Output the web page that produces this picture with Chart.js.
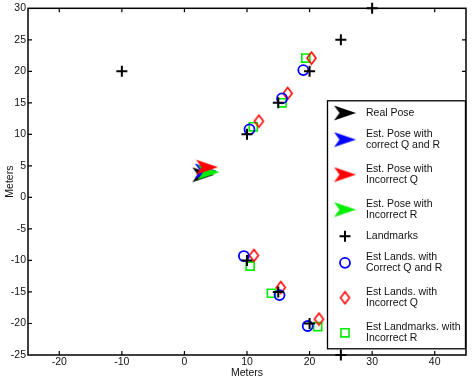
<!DOCTYPE html>
<html><head><meta charset="utf-8">
<script src="https://cdn.jsdelivr.net/npm/chart.js@4.4.1/dist/chart.umd.min.js"></script>
<style>html,body{margin:0;padding:0;background:#fff;}canvas{display:block;}</style>
</head><body>
<canvas id="c" width="474" height="379"></canvas>
<script>
// ---- data ----
const xTicks = [-20, -10, 0, 10, 20, 30, 40];
const yTicks = [-25, -20, -15, -10, -5, 0, 5, 10, 15, 20, 25, 30];
const landmarksX = [-10, 10, 15, 20, 25, 30, 10, 15, 20, 25];
const landmarksY = [20, 10, 15, 20, 25, 30, -10, -15, -20, -25];
const estCorrectX = [10.4, 15.6, 19.0, 9.5, 15.2, 19.7];
const estCorrectY = [10.8, 15.7, 20.2, -9.3, -15.5, -20.4];
const estIncQX = [11.9, 16.5, 20.3, 11.1, 15.4, 21.5];
const estIncQY = [12.1, 16.5, 22.1, -9.2, -14.3, -19.3];
const estIncRX = [11.0, 15.6, 19.4, 10.5, 13.9, 21.3];
const estIncRY = [11.2, 15.0, 22.1, -10.9, -15.2, -20.5];
const realPose = [3.0, 3.6];
const poseCorrect = [3.4, 4.2];
const poseIncQ = [3.6, 4.8];
const poseIncR = [3.85, 4.0];
const legendLabels = [
  ["Real Pose"],
  ["Est. Pose with", "correct Q and R"],
  ["Est. Pose with", "Incorrect Q"],
  ["Est. Pose with", "Incorrect R"],
  ["Landmarks"],
  ["Est Lands. with", "Correct Q and R"],
  ["Est Lands. with", "Incorrect Q"],
  ["Est Landmarks. with", "Incorrect R"]
];

// ---- marker images ----
function arrowImg(color) {
  const c = document.createElement('canvas');
  c.width = 23; c.height = 16;
  const g = c.getContext('2d');
  g.fillStyle = color;
  g.beginPath();
  g.moveTo(22.5, 8); g.lineTo(0.5, 0.5); g.lineTo(6, 8); g.lineTo(0.5, 15.5);
  g.closePath(); g.fill();
  return c;
}
function diamondImg(color) {
  const c = document.createElement('canvas');
  c.width = 13; c.height = 15;
  const g = c.getContext('2d');
  g.strokeStyle = color; g.lineWidth = 1.6;
  g.beginPath();
  g.moveTo(6.5, 1.5); g.lineTo(11, 7.5); g.lineTo(6.5, 13.5); g.lineTo(2, 7.5);
  g.closePath(); g.stroke();
  return c;
}
const arrBlack = arrowImg('#000000');
const arrBlue = arrowImg('#0000ff');
const arrRed = arrowImg('#ff0000');
const arrGreen = arrowImg('#00ee00');
const diaRed = diamondImg('#ff0000');

const zip = (xs, ys) => xs.map((v, i) => ({x: v, y: ys[i]}));

const plusStyle = {pointStyle: 'cross', pointRadius: 5.5, pointBorderWidth: 2, pointBorderColor: '#000', pointBackgroundColor: '#000'};
const circStyle = {pointStyle: 'circle', pointRadius: 5, pointBorderWidth: 1.8, pointBorderColor: '#0000ff', pointBackgroundColor: 'rgba(0,0,0,0)'};
const rectStyle = {pointStyle: 'rect', pointRadius: 5.7, pointBorderWidth: 1.6, pointBorderColor: '#00ee00', pointBackgroundColor: 'rgba(0,0,0,0)'};

const datasets = [
  Object.assign({label: 'Landmarks', data: zip(landmarksX, landmarksY)}, plusStyle),
  {label: 'Est. Pose with Incorrect Q', data: [{x: poseIncQ[0], y: poseIncQ[1]}], pointStyle: arrRed},
  {label: 'Est. Pose with Incorrect R', data: [{x: poseIncR[0], y: poseIncR[1]}], pointStyle: arrGreen},
  {label: 'Est. Pose with correct Q and R', data: [{x: poseCorrect[0], y: poseCorrect[1]}], pointStyle: arrBlue},
  {label: 'Real Pose', data: [{x: realPose[0], y: realPose[1]}], pointStyle: arrBlack},
  Object.assign({label: 'Est Lands. with Correct Q and R', data: zip(estCorrectX, estCorrectY)}, circStyle),
  {label: 'Est Lands. with Incorrect Q', data: zip(estIncQX, estIncQY), pointStyle: diaRed},
  Object.assign({label: 'Est Landmarks. with Incorrect R', data: zip(estIncRX, estIncRY)}, rectStyle)
].map(d => Object.assign({clip: false, showLine: false, pointHoverRadius: d.pointRadius || 5}, d));

const FONT = '"Liberation Sans", Arial, sans-serif';

const framePlugin = {
  id: 'frame',
  beforeDatasetsDraw(chart) {
    const {ctx, chartArea: a, scales: {x, y}} = chart;
    ctx.save();
    ctx.strokeStyle = '#000'; ctx.lineWidth = 1.5;
    ctx.strokeRect(a.left, a.top, a.right - a.left, a.bottom - a.top);
    ctx.lineWidth = 1.2;
    ctx.beginPath();
    xTicks.forEach(v => {
      const p = x.getPixelForValue(v);
      ctx.moveTo(p, a.bottom); ctx.lineTo(p, a.bottom - 4);
      ctx.moveTo(p, a.top); ctx.lineTo(p, a.top + 4);
    });
    yTicks.forEach(v => {
      const p = y.getPixelForValue(v);
      if (Math.abs(p - a.top) < 1 || Math.abs(p - a.bottom) < 1) return;
      ctx.moveTo(a.left, p); ctx.lineTo(a.left + 4, p);
      ctx.moveTo(a.right, p); ctx.lineTo(a.right - 4, p);
    });
    ctx.stroke();
    ctx.restore();
  }
};

const legendPlugin = {
  id: 'customLegend',
  afterDraw(chart) {
    const {ctx, chartArea: a} = chart;
    const bx = a.right - 139, by = a.top + 92, bw = 138, bh = 248;
    ctx.save();
    ctx.fillStyle = '#fff';
    ctx.fillRect(bx, by, bw, bh);
    ctx.strokeStyle = '#000'; ctx.lineWidth = 1.3;
    ctx.strokeRect(bx + 0.5, by + 0.5, bw, bh);
    const symbols = [
      {img: arrBlack}, {img: arrBlue}, {img: arrRed}, {img: arrGreen},
      {st: plusStyle}, {st: circStyle}, {img: diaRed}, {st: rectStyle}
    ];
    ctx.font = '10.5px ' + FONT;
    ctx.fillStyle = '#111';
    ctx.textBaseline = 'middle';
    ctx.textAlign = 'left';
    let cy = by + 12.7;
    legendLabels.forEach((lines, i) => {
      if (i > 0) cy += 8.4 * (legendLabels[i - 1].length + lines.length) + 1.4;
      const sx = bx + 18;
      const s = symbols[i];
      if (s.img) {
        ctx.drawImage(s.img, sx - s.img.width / 2, cy - s.img.height / 2);
      } else {
        ctx.save();
        ctx.strokeStyle = s.st.pointBorderColor;
        ctx.fillStyle = s.st.pointBackgroundColor;
        ctx.lineWidth = s.st.pointBorderWidth;
        Chart.helpers.drawPoint(ctx, {pointStyle: s.st.pointStyle, radius: s.st.pointRadius, rotation: 0, borderWidth: s.st.pointBorderWidth}, sx, cy);
        ctx.restore();
      }
      ctx.fillStyle = '#111';
      const n = lines.length;
      lines.forEach((t, k) => {
        ctx.fillText(t, bx + 39, cy + (k - (n - 1) / 2) * 11.5);
      });
    });
    ctx.restore();
  }
};

new Chart(document.getElementById('c'), {
  type: 'scatter',
  data: {datasets},
  options: {
    responsive: false,
    animation: false,
    events: [],
    layout: {padding: {top: 7, right: 8, left: 0, bottom: 0}},
    plugins: {legend: {display: false}, tooltip: {enabled: false}},
    scales: {
      x: {
        type: 'linear', min: -25, max: 45,
        afterBuildTicks: s => { s.ticks = xTicks.map(v => ({value: v})); },
        afterFit: s => { s.height = 24; },
        grid: {display: false, drawTicks: false},
        border: {display: false},
        ticks: {padding: 1, color: '#111', font: {family: FONT, size: 10.5}, maxRotation: 0, autoSkip: false},
        title: {display: true, text: 'Meters', color: '#111', font: {family: FONT, size: 10.5}, padding: {top: 0, bottom: 0}}
      },
      y: {
        type: 'linear', min: -25, max: 30,
        afterBuildTicks: s => { s.ticks = yTicks.map(v => ({value: v})); },
        afterFit: s => { s.width = 28; },
        grid: {display: false, drawTicks: false},
        border: {display: false},
        ticks: {padding: 2, color: '#111', font: {family: FONT, size: 10.5}, autoSkip: false},
        title: {display: true, text: 'Meters', color: '#111', font: {family: FONT, size: 10.5}, padding: {top: 4, bottom: 0}}
      }
    }
  },
  plugins: [framePlugin, legendPlugin]
});
</script>
</body></html>
